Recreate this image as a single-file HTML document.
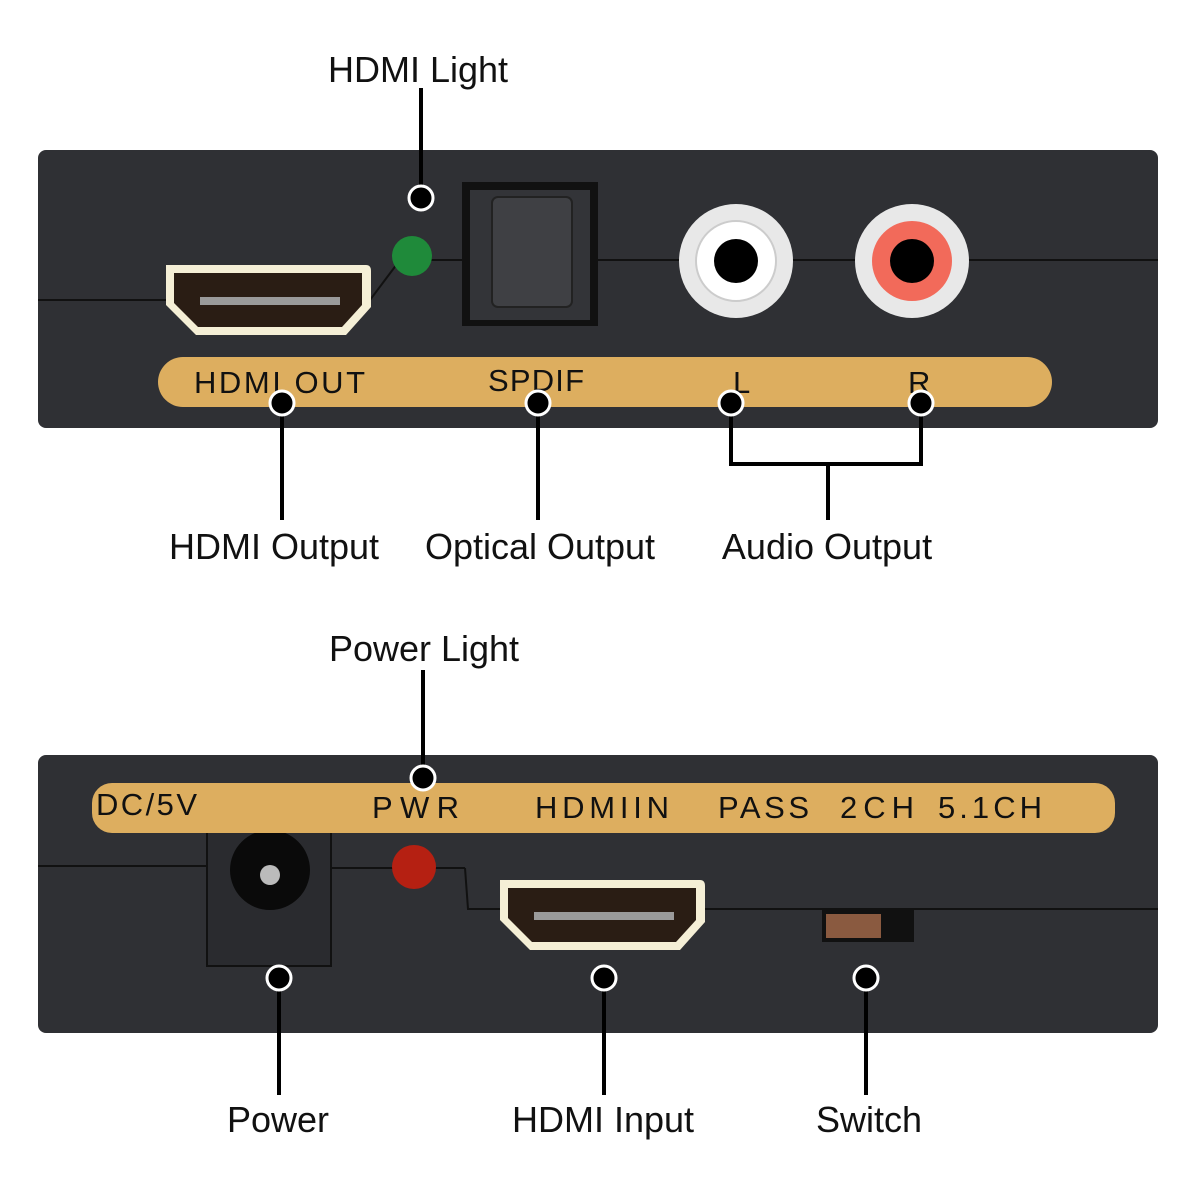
<!DOCTYPE html>
<html><head><style>body{margin:0;background:#fff}svg{display:block}</style></head><body>
<svg width="1200" height="1200" viewBox="0 0 1200 1200" xmlns="http://www.w3.org/2000/svg" font-family="Liberation Sans, sans-serif">
<defs>
<g id="hdmi">
<path d="M0,0 H200 Q205,0 205,6 V42 L180,70 H30 L0,40 Z" fill="#f5efd6"/>
<path d="M8,8 H196 V40 L176,62 H32 L8,38 Z" fill="#2a1d14"/>
<rect x="34" y="32" width="140" height="8" fill="#9a9a9a"/>
</g>
</defs>
<rect width="1200" height="1200" fill="#fff"/>
<rect x="38" y="150" width="1120" height="278" rx="8" fill="#2f3034"/>
<line x1="38" y1="300" x2="170" y2="300" stroke="#111" stroke-width="2"/>
<line x1="370" y1="300" x2="400" y2="260" stroke="#111" stroke-width="2"/>
<line x1="430" y1="260" x2="1158" y2="260" stroke="#111" stroke-width="2"/>
<use href="#hdmi" x="166" y="265"/>
<circle cx="412" cy="256" r="20" fill="#1f8a3a"/>
<rect x="462" y="182" width="136" height="144" fill="#111"/>
<rect x="470" y="190" width="120" height="130" fill="#333438"/>
<rect x="492" y="197" width="80" height="110" rx="6" fill="#3f4044" stroke="#222" stroke-width="2"/>
<circle cx="736" cy="261" r="57" fill="#e8e8e8"/>
<circle cx="736" cy="261" r="40" fill="#fff" stroke="#ccc" stroke-width="2"/>
<circle cx="736" cy="261" r="22" fill="#000"/>
<circle cx="912" cy="261" r="57" fill="#e8e8e8"/>
<circle cx="912" cy="261" r="40" fill="#f26a5a"/>
<circle cx="912" cy="261" r="22" fill="#000"/>
<rect x="158" y="357" width="894" height="50" rx="25" fill="#ddae5f"/>
<g font-size="31" fill="#111">
<text x="194" y="393" textLength="171">HDMI OUT</text><text x="488" y="391" textLength="96">SPDIF</text>
<text x="733" y="393">L</text><text x="908" y="393">R</text>
</g>
<rect x="38" y="755" width="1120" height="278" rx="8" fill="#2f3034"/>
<line x1="38" y1="866" x2="210" y2="866" stroke="#111" stroke-width="2"/>
<line x1="330" y1="868" x2="465" y2="868" stroke="#111" stroke-width="2"/>
<polyline points="465,868 468,909 505,909" fill="none" stroke="#111" stroke-width="2"/>
<line x1="700" y1="909" x2="1158" y2="909" stroke="#111" stroke-width="2"/>
<rect x="207" y="830" width="124" height="136" fill="#2a2b2f" stroke="#111" stroke-width="2"/>
<circle cx="270" cy="870" r="40" fill="#0a0a0a"/>
<circle cx="270" cy="875" r="10" fill="#bbb"/>
<circle cx="414" cy="867" r="22" fill="#b52012"/>
<use href="#hdmi" x="500" y="880"/>
<rect x="822" y="910" width="92" height="32" fill="#111"/>
<rect x="826" y="914" width="55" height="24" fill="#8a5a40"/>
<rect x="92" y="783" width="1023" height="50" rx="20" fill="#ddae5f"/>
<g font-size="31" fill="#111">
<text x="96" y="815" textLength="101">DC/5V</text><text x="372" y="818" textLength="87">PWR</text><text x="535" y="818" textLength="134">HDMIIN</text>
<text x="718" y="818" textLength="91">PASS</text><text x="840" y="818" textLength="74">2CH</text><text x="938" y="818" textLength="104">5.1CH</text>
</g>
<g stroke="#000" stroke-width="4" fill="none">
<line x1="421" y1="88" x2="421" y2="198"/>
<line x1="282" y1="403" x2="282" y2="520"/>
<line x1="538" y1="403" x2="538" y2="520"/>
<polyline points="731,403 731,464 921,464 921,403"/>
<line x1="828" y1="464" x2="828" y2="520"/>
<line x1="423" y1="670" x2="423" y2="778"/>
<line x1="279" y1="978" x2="279" y2="1095"/>
<line x1="604" y1="978" x2="604" y2="1095"/>
<line x1="866" y1="978" x2="866" y2="1095"/>
</g>
<g fill="#000" stroke="#fff" stroke-width="3">
<circle cx="421" cy="198" r="12"/><circle cx="282" cy="403" r="12"/><circle cx="538" cy="403" r="12"/>
<circle cx="731" cy="403" r="12"/><circle cx="921" cy="403" r="12"/><circle cx="423" cy="778" r="12"/>
<circle cx="279" cy="978" r="12"/><circle cx="604" cy="978" r="12"/><circle cx="866" cy="978" r="12"/>
</g>
<g font-size="36" fill="#111" text-anchor="middle">
<text x="418" y="82">HDMI Light</text>
<text x="274" y="559">HDMI Output</text>
<text x="540" y="559">Optical Output</text>
<text x="827" y="559">Audio Output</text>
<text x="424" y="661">Power Light</text>
<text x="278" y="1132">Power</text>
<text x="603" y="1132">HDMI Input</text>
<text x="869" y="1132">Switch</text>
</g>
</svg>
</body></html>
